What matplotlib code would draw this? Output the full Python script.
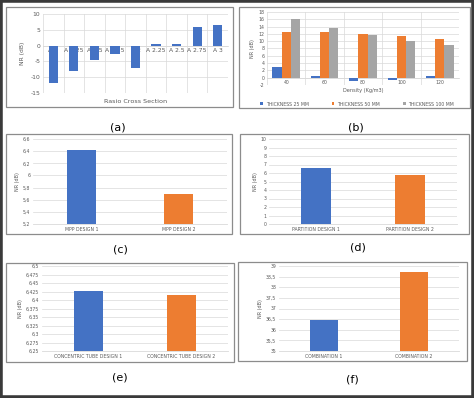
import matplotlib
matplotlib.use("Agg")
import matplotlib.pyplot as plt
from matplotlib.patches import Rectangle
from matplotlib.ticker import FuncFormatter, MultipleLocator
import numpy as np

plt.rcParams["axes.unicode_minus"] = False

W, H = 474, 398
BLUE, ORANGE, GRAY = "#4472C4", "#ED7D31", "#A5A5A5"
GRID = "#D9D9D9"
TXT = "#595959"

# ---- data ----
a_cats = ["A 1", "A 1.25", "A 1.5", "A 1.75", "A 2", "A 2.25", "A 2.5", "A 2.75", "A 3"]
a_vals = [-11.7, -7.9, -4.7, -2.7, -7.1, 0.6, 0.6, 5.8, 6.4]

b_cats = ["40", "60", "80", "100", "120"]
b_t25 = [2.8, 0.55, -0.8, -0.7, 0.55]
b_t50 = [12.5, 12.5, 12.1, 11.4, 10.6]
b_t100 = [16.1, 13.7, 11.6, 10.0, 8.9]
b_series = ["THICKNESS 25 MM", "THICKNESS 50 MM", "THICKNESS 100 MM"]

c_cats = ["MPP DESIGN 1", "MPP DESIGN 2"]
c_vals = [6.42, 5.70]
d_cats = ["PARTITION DESIGN 1", "PARTITION DESIGN 2"]
d_vals = [6.55, 5.75]
e_cats = ["CONCENTRIC TUBE DESIGN 1", "CONCENTRIC TUBE DESIGN 2"]
e_vals = [6.426, 6.416]
f_cats = ["COMBINATION 1", "COMBINATION 2"]
f_vals = [36.45, 38.73]

fig = plt.figure(figsize=(W / 100, H / 100), dpi=100)
fig.patch.set_facecolor("white")


def rect(x0, y0, x1, y1):
    return [x0 / W, 1 - y1 / H, (x1 - x0) / W, (y1 - y0) / H]


def frame(x0, y0, x1, y1, color="#8c8c8c", lw=0.9):
    fig.patches.append(Rectangle((x0 / W, 1 - y1 / H), (x1 - x0) / W, (y1 - y0) / H,
                                 transform=fig.transFigure, fill=False,
                                 edgecolor=color, linewidth=lw))


def comma(v, pos):
    s = f"{round(v, 4):g}"
    return s.replace(".", ",")


def style(ax, fs):
    for s in ["top", "right", "left"]:
        ax.spines[s].set_visible(False)
    ax.spines["bottom"].set_color(GRID)
    ax.spines["bottom"].set_linewidth(0.6)
    ax.tick_params(length=0, labelsize=fs, colors=TXT, pad=2)
    ax.yaxis.grid(True, color=GRID, linewidth=0.5)
    ax.set_axisbelow(True)


# outer dark border
fig.patches.append(Rectangle((0, 0), 1, 1, transform=fig.transFigure, fill=False,
                             edgecolor="#3a3a3a", linewidth=4))

# ---- (a) ----
frame(6, 7, 233, 107)
ax = fig.add_axes(rect(43, 14, 228, 93))
x = np.arange(len(a_cats))
ax.bar(x, a_vals, width=0.45, color=BLUE, zorder=3)
ax.set_xlim(-0.5, len(a_cats) - 0.5)
ax.set_ylim(-15, 10)
ax.yaxis.set_major_locator(MultipleLocator(5))
style(ax, 4.3)
ax.spines["bottom"].set_position(("data", 0))
ax.set_xticks(x)
ax.set_xticklabels(a_cats)
for b in np.arange(-0.5, len(a_cats), 1.0):
    ax.axvline(b, color=GRID, linewidth=0.5, zorder=0)
ax.set_ylabel("NR (dB)", fontsize=4.3, color=TXT, labelpad=4)
ax.text(0.5, -0.08, "Rasio Cross Section", transform=ax.transAxes, ha="center",
        va="top", fontsize=4.6, color=TXT)
fig.text(118 / W, 1 - 127 / H, "(a)", ha="center", va="center", fontsize=8)

# ---- (b) ----
frame(239, 7, 470, 108)
ax = fig.add_axes(rect(267, 12, 459, 85))
x = np.arange(len(b_cats))
bw = 0.24
for i, (vals, col) in enumerate(zip([b_t25, b_t50, b_t100], [BLUE, ORANGE, GRAY])):
    ax.bar(x + (i - 1) * bw, vals, width=bw, color=col, zorder=3, label=b_series[i])
ax.set_xlim(-0.5, len(b_cats) - 0.5)
ax.set_ylim(-2, 18)
ax.yaxis.set_major_locator(MultipleLocator(2))
style(ax, 3.3)
ax.spines["bottom"].set_position(("data", 0))
ax.set_xticks(x)
ax.set_xticklabels(b_cats)
for b in np.arange(-0.5, len(b_cats), 1.0):
    ax.axvline(b, color=GRID, linewidth=0.5, zorder=0)
ax.set_ylabel("NR (dB)", fontsize=3.5, color=TXT, labelpad=2)
ax.text(0.5, -0.035, "Density (Kg/m3)", transform=ax.transAxes, ha="center",
        va="top", fontsize=3.6, color=TXT)
leg = ax.legend(loc="upper center", bbox_to_anchor=(0.47, -0.17), ncol=3, frameon=False,
                fontsize=3.3, handlelength=0.6, handleheight=0.6, columnspacing=5,
                handletextpad=0.6)
for t in leg.get_texts():
    t.set_color(TXT)
fig.text(356 / W, 1 - 127 / H, "(b)", ha="center", va="center", fontsize=8)


def simple(x0, y0, x1, y1, fr, cats, vals, ylim, step, label, lx, ly, width):
    frame(*fr)
    ax = fig.add_axes(rect(x0, y0, x1, y1))
    xx = np.arange(len(cats))
    ax.bar(xx, vals, width=width, color=[BLUE, ORANGE], zorder=3)
    ax.set_xlim(-0.5, len(cats) - 0.5)
    ax.set_ylim(*ylim)
    ax.yaxis.set_major_locator(MultipleLocator(step))
    ax.yaxis.set_major_formatter(FuncFormatter(comma))
    style(ax, 3.3)
    ax.set_xticks(xx)
    ax.set_xticklabels(cats)
    ax.set_ylabel("NR (dB)", fontsize=3.5, color=TXT, labelpad=2)
    fig.text(lx / W, 1 - ly / H, label, ha="center", va="center", fontsize=8)
    return ax


simple(33, 139, 227, 224, (6, 134, 232, 234), c_cats, c_vals, (5.2, 6.6), 0.2,
       "(c)", 120, 249, 0.3)
simple(269, 139, 457, 224, (240, 134, 469, 234), d_cats, d_vals, (0, 10), 1,
       "(d)", 358, 248, 0.32)
simple(42, 266, 228, 351, (6, 263, 234, 362), e_cats, e_vals, (6.25, 6.5), 0.025,
       "(e)", 120, 377, 0.31)
simple(279, 266, 459, 351, (238, 262, 467, 361), f_cats, f_vals, (35, 39), 0.5,
       "(f)", 352, 379, 0.32)

fig.savefig("out.png", dpi=100, facecolor="white")
